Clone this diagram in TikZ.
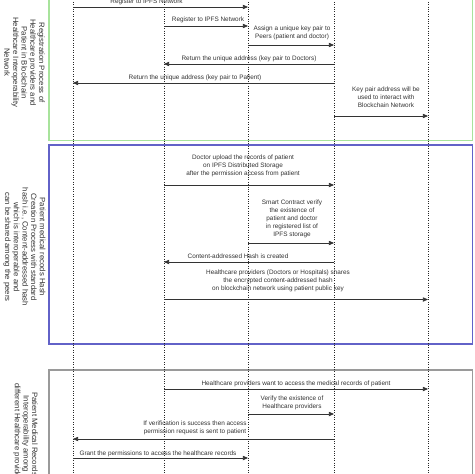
\documentclass[tikz,border=0pt]{standalone}
\usepackage{fontspec}
\setmainfont{Liberation Sans}
\usetikzlibrary{arrows.meta}
\definecolor{linec}{HTML}{333333}
\definecolor{greenc}{HTML}{A8E39C}
\definecolor{bluec}{HTML}{6262C8}
\definecolor{grayc}{HTML}{9A9A9A}
\begin{document}
\begin{tikzpicture}[x=0.75pt,y=-0.75pt,
  msg/.style={draw=linec, line width=0.6pt, -{Triangle[length=3.8pt,width=3.2pt]}},
  life/.style={draw=black!85, line width=0.6pt, dash pattern=on 0.8pt off 1pt},
  lbl/.style={inner sep=0pt, align=center, font=\fontsize{4.8}{6}\selectfont, text=linec},
  side/.style={inner sep=0pt, align=center, font=\fontsize{5.8}{6.5}\selectfont, text=linec, rotate=-90},
  grp/.style={line width=0.8pt}
]
\useasboundingbox (0,0) rectangle (474,474);
\fill[white] (0,0) rectangle (474,474);

% group boxes
\draw[grp, draw=greenc] (49,-5) rectangle (472.5,140.5);
\draw[grp, draw=bluec] (49,145) rectangle (472.5,344);
\draw[grp, draw=grayc] (49,370) rectangle (472.5,480);

% lifelines
\foreach \n/\x in {1/73,2/164,3/248,4/334,5/428}{
  \coordinate (T\n) at (\x,-3);
  \coordinate (B\n) at (\x,477);
  \draw[life] (T\n) -- (B\n);
}

% side labels
\node[side] (g1) at (24.5,62.5) {Registration Process of\\Healthcare providers and\\Patient in Blockchain\\Healthcare Interoperability\\Network};
\node[side] (g2) at (24.5,247) {Patient medical recods Hash\\Creation Process with standard\\hash i.e., Content-addressed hash\\which is interoperable and\\can be shared among the peers};
\node[side] (g3) at (25.5,434) {Patient Medical Records\\Interoperability among\\different Healthcare providers};

% messages: registration
\coordinate (a1) at (73,7);   \coordinate (b1) at (248,7);
\draw[msg] (a1) -- (b1);
\node[lbl] (l1) at (146.5,1.5) {Register to IPFS Network};

\coordinate (a2) at (164,26); \coordinate (b2) at (248,26);
\draw[msg] (a2) -- (b2);
\node[lbl] (l2) at (208,20) {Register to IPFS Network};

\coordinate (a3) at (248,45); \coordinate (b3) at (334,45);
\draw[msg] (a3) -- (b3);
\node[lbl] (l3) at (292,33) {Assign a unique key pair to\\Peers (patient and doctor)};

\coordinate (a4) at (334,64); \coordinate (b4) at (164,64);
\draw[msg] (a4) -- (b4);
\node[lbl] (l4) at (249,58.5) {Return the unique address (key pair to Doctors)};

\coordinate (a5) at (334,83); \coordinate (b5) at (73,83);
\draw[msg] (a5) -- (b5);
\node[lbl] (l5) at (195,77.5) {Return the unique address (key pair to Patient)};

\coordinate (a6) at (334,116); \coordinate (b6) at (428,116);
\draw[msg] (a6) -- (b6);
\node[lbl] (l6) at (386,97.5) {Key pair address will be\\used to interact with\\Blockchain Network};

% messages: hash creation
\coordinate (a7) at (164,185); \coordinate (b7) at (334,185);
\draw[msg] (a7) -- (b7);
\node[lbl] (l7) at (243,165.5) {Doctor upload the records of patient\\on IPFS Distributed Storage\\after the permission access from patient};

\coordinate (a8) at (248,243); \coordinate (b8) at (334,243);
\draw[msg] (a8) -- (b8);
\node[lbl] (l8) at (292,218.5) {Smart Contract verify\\the existence of\\patient and doctor\\in registered list of\\IPFS storage};

\coordinate (a9) at (334,262); \coordinate (b9) at (164,262);
\draw[msg] (a9) -- (b9);
\node[lbl] (l9) at (238,256.5) {Content-addressed Hash is created};

\coordinate (a10) at (164,299.5); \coordinate (b10) at (428,299.5);
\draw[msg] (a10) -- (b10);
\node[lbl] (l10) at (278,281) {Healthcare providers (Doctors or Hospitals) shares\\the encrypted content-addressed hash\\on blockchain network using patient public key};

% messages: interoperability
\coordinate (a11) at (164,389); \coordinate (b11) at (428,389);
\draw[msg] (a11) -- (b11);
\node[lbl] (l11) at (296,383.5) {Healthcare providers want to access the medical records of patient};

\coordinate (a12) at (248,414); \coordinate (b12) at (334,414);
\draw[msg] (a12) -- (b12);
\node[lbl] (l12) at (292,402.5) {Verify the existence of\\Healthcare providers};

\coordinate (a13) at (334,439); \coordinate (b13) at (73,439);
\draw[msg] (a13) -- (b13);
\node[lbl] (l13) at (195,427.5) {If verification is success then access\\permission request is sent to patient};

\coordinate (a14) at (73,458); \coordinate (b14) at (248,458);
\draw[msg] (a14) -- (b14);
\node[lbl] (l14) at (158,453.5) {Grant the permissions to access the healthcare records};
\end{tikzpicture}
\end{document}
